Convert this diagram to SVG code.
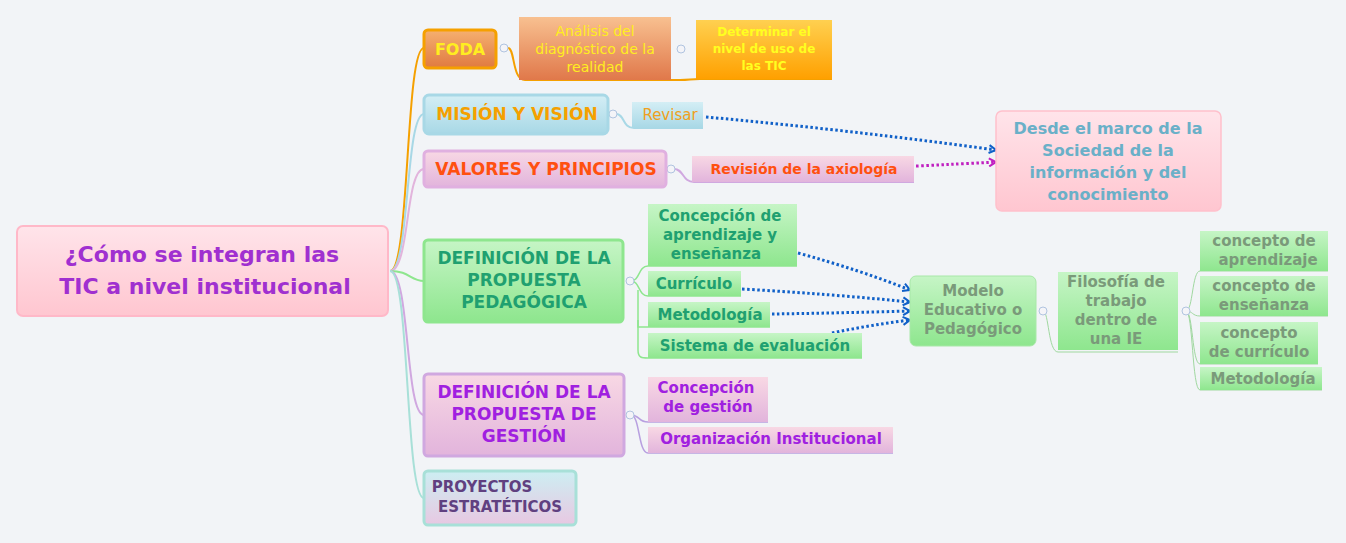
<svg xmlns="http://www.w3.org/2000/svg" width="1346" height="543" viewBox="0 0 1346 543">
<defs>
<linearGradient id="gPink" x1="0" y1="0" x2="0" y2="1"><stop offset="0" stop-color="#ffe4ea"/><stop offset="1" stop-color="#ffc6d0"/></linearGradient>
<linearGradient id="gOr" x1="0" y1="0" x2="0" y2="1"><stop offset="0" stop-color="#f5b070"/><stop offset="1" stop-color="#e07a40"/></linearGradient>
<linearGradient id="gOr2" x1="0" y1="0" x2="0" y2="1"><stop offset="0" stop-color="#f8c090"/><stop offset="1" stop-color="#e0784a"/></linearGradient>
<linearGradient id="gYel" x1="0" y1="0" x2="0" y2="1"><stop offset="0" stop-color="#ffd050"/><stop offset="1" stop-color="#ffa000"/></linearGradient>
<linearGradient id="gBlue" x1="0" y1="0" x2="0" y2="1"><stop offset="0" stop-color="#d4eef5"/><stop offset="1" stop-color="#a8d8e6"/></linearGradient>
<linearGradient id="gLav" x1="0" y1="0" x2="0" y2="1"><stop offset="0" stop-color="#f8d8e4"/><stop offset="1" stop-color="#e2b4dc"/></linearGradient>
<linearGradient id="gGreen" x1="0" y1="0" x2="0" y2="1"><stop offset="0" stop-color="#c6f5c6"/><stop offset="1" stop-color="#8ee68e"/></linearGradient>
<linearGradient id="gProj" x1="0" y1="0" x2="0" y2="1"><stop offset="0" stop-color="#cdeef2"/><stop offset="1" stop-color="#e8c8e2"/></linearGradient>
<marker id="aB" markerWidth="10" markerHeight="10" refX="8" refY="5" orient="auto" markerUnits="userSpaceOnUse"><path d="M1,1 L8,5 L1,9" fill="none" stroke="#1060c8" stroke-width="2"/></marker>
<marker id="aM" markerWidth="10" markerHeight="10" refX="8" refY="5" orient="auto" markerUnits="userSpaceOnUse"><path d="M1,1 L8,5 L1,9" fill="none" stroke="#c020c0" stroke-width="2"/></marker>
</defs>
<style>
text{font-family:"DejaVu Sans",sans-serif;text-anchor:middle;font-weight:bold}
.n{font-weight:normal}
.sm{fill:#f4f4f8;stroke:#b0c4e0;stroke-width:1}
</style>
<rect width="1346" height="543" fill="#f2f4f7"/>
<g id="connectors" fill="none" stroke-width="2">
<path d="M390,271 C410,271 405,48 424,48" stroke="#f5a000"/>
<path d="M390,271 C410,271 405,114 424,114" stroke="#a8d8e6"/>
<path d="M390,271 C410,271 405,169 424,169" stroke="#e2b4dc"/>
<path d="M390,271 C410,271 410,281 424,281" stroke="#8ee68e"/>
<path d="M390,271 C410,271 405,415 424,415" stroke="#d0a8e0"/>
<path d="M390,271 C410,271 405,498 424,498" stroke="#a8e0d8"/>
<path d="M508,48 C515,48 512,80 525,80 L680,80 C690,80 690,79 700,79 L832,79" stroke="#f5a000"/>
<path d="M616,114 C625,114 622,128 634,128 L703,128" stroke="#a8d8e6"/>
<path d="M674,169 C684,169 682,182 694,182 L914,182" stroke="#d0a8e0"/>
<g stroke="#8ee68e" stroke-width="1.5"><path d="M631,281 C640,281 638,266 648,266 L797,266"/><path d="M631,281 C640,281 638,296 648,296 L741,296"/><path d="M638,290 L638,327 C638,327 640,327 648,327 L770,327"/><path d="M638,320 L638,350 C638,358 642,358 648,358 L862,358"/></g>
<g stroke="#b8a0e0" stroke-width="1.5"><path d="M631,415 C640,415 638,422 648,422 L768,422"/><path d="M631,415 C640,415 638,453 648,453 L893,453"/></g>
<g stroke="#a0d8a0" stroke-width="1"><path d="M1043,311 C1049,311 1048,352 1058,352 L1178,352"/><path d="M1186,311 C1193,311 1192,271 1200,271 L1328,271"/><path d="M1186,311 C1193,311 1192,316 1200,316 L1328,316"/><path d="M1186,311 C1193,311 1192,364 1200,364 L1318,364"/><path d="M1186,311 C1193,311 1192,390 1200,390 L1322,390"/></g>
<g stroke-dasharray="2.5,2.5" stroke-width="3">
<path d="M706,117 Q850,130 996,150" stroke="#1060c8" marker-end="url(#aB)"/>
<path d="M916,166 Q960,164 996,162" stroke="#c020c0" marker-end="url(#aM)"/>
<path d="M798,253 Q860,270 910,290" stroke="#1060c8" marker-end="url(#aB)"/>
<path d="M742,289 Q830,294 910,302" stroke="#1060c8" marker-end="url(#aB)"/>
<path d="M772,314 Q840,313 910,311" stroke="#1060c8" marker-end="url(#aB)"/>
<path d="M832,333 Q870,325 910,320" stroke="#1060c8" marker-end="url(#aB)"/>
</g>
<g class="sm"><circle cx="504" cy="48" r="4"/><circle cx="681" cy="49" r="4"/><circle cx="613" cy="114" r="4"/><circle cx="671" cy="169" r="4"/><circle cx="630" cy="281" r="4"/><circle cx="630" cy="415" r="4"/><circle cx="1043" cy="311" r="4"/><circle cx="1186" cy="311" r="4"/></g>
</g>
<g id="root"><rect x="17" y="226" width="371" height="90" rx="6" fill="url(#gPink)" stroke="#ffb8c8" stroke-width="2"/><text x="202" y="262" font-size="22" fill="#a030d0">¿Cómo se integran las</text><text x="205" y="294" font-size="22" fill="#a030d0">TIC  a nivel institucional</text></g>
<g id="foda"><rect x="424" y="30" width="72" height="38" rx="4" fill="url(#gOr)" stroke="#f5a000" stroke-width="3"/><text x="460" y="55" font-size="16" fill="#ffee20">FODA</text></g>
<g id="analisis"><rect x="519" y="17" width="152" height="63" fill="url(#gOr2)"/><text class="n" x="595" y="36" font-size="14" fill="#ffee20">Análisis del</text><text class="n" x="595" y="54" font-size="14" fill="#ffee20">diagnóstico de la</text><text class="n" x="595" y="72" font-size="14" fill="#ffee20">realidad</text></g>
<g id="determinar"><rect x="696" y="20" width="136" height="59" fill="url(#gYel)"/><text x="764" y="36" font-size="12" fill="#ffff20">Determinar el</text><text x="764" y="53" font-size="12" fill="#ffff20">nivel de uso de</text><text x="764" y="70" font-size="12" fill="#ffff20">las TIC</text></g>
<g id="mision"><rect x="424" y="95" width="184" height="39" rx="5" fill="url(#gBlue)" stroke="#a8d8e6" stroke-width="3"/><text x="517" y="120" font-size="17" fill="#f5a000">MISIÓN Y VISIÓN</text></g>
<g id="revisar"><rect x="632" y="102" width="71" height="26" fill="url(#gBlue)"/><text class="n" x="670" y="120" font-size="15" fill="#f0a020">Revisar</text></g>
<g id="valores"><rect x="424" y="151" width="242" height="36" rx="4" fill="url(#gLav)" stroke="#e0b0e0" stroke-width="3"/><text x="546" y="175" font-size="17" fill="#ff5010">VALORES Y PRINCIPIOS</text></g>
<g id="axiologia"><rect x="692" y="156" width="222" height="26" fill="url(#gLav)"/><text x="804" y="174" font-size="14" fill="#ff5010">Revisión de la axiología</text></g>
<g id="desde"><rect x="996" y="111" width="225" height="100" rx="6" fill="url(#gPink)" stroke="#ffc0cc" stroke-width="1.5"/><text x="1108" y="134" font-size="16" fill="#6ab0c8">Desde el marco de la</text><text x="1108" y="156" font-size="16" fill="#6ab0c8">Sociedad de la</text><text x="1108" y="178" font-size="16" fill="#6ab0c8">información y del</text><text x="1108" y="200" font-size="16" fill="#6ab0c8">conocimiento</text></g>
<g id="def-ped"><rect x="424" y="240" width="199" height="82" rx="4" fill="url(#gGreen)" stroke="#8ee68e" stroke-width="3"/><text x="524" y="264" font-size="17" fill="#20a070">DEFINICIÓN DE LA</text><text x="524" y="286" font-size="17" fill="#20a070">PROPUESTA</text><text x="524" y="308" font-size="17" fill="#20a070">PEDAGÓGICA</text></g>
<g fill="url(#gGreen)">
<g id="concepcion-ap"><rect x="648" y="204" width="149" height="62" fill="url(#gGreen)"/><text x="720" y="221" font-size="15" fill="#20a070">Concepción de</text><text x="720" y="240" font-size="15" fill="#20a070">aprendizaje y</text><text x="716" y="259" font-size="15" fill="#20a070">enseñanza</text></g>
<g id="curriculo"><rect x="648" y="271" width="93" height="25" fill="url(#gGreen)"/><text x="694" y="289" font-size="15" fill="#20a070">Currículo</text></g>
<g id="metodologia"><rect x="648" y="302" width="122" height="25" fill="url(#gGreen)"/><text x="710" y="320" font-size="15" fill="#20a070">Metodología</text></g>
<g id="sistema"><rect x="648" y="333" width="214" height="25" fill="url(#gGreen)"/><text x="755" y="351" font-size="15" fill="#20a070">Sistema de evaluación</text></g>
<g id="modelo"><rect x="910" y="276" width="126" height="70" rx="6" fill="url(#gGreen)" stroke="#a8e8a8" stroke-width="1"/><text x="973" y="296" font-size="15" fill="#7a9a7a">Modelo</text><text x="973" y="315" font-size="15" fill="#7a9a7a">Educativo o</text><text x="973" y="334" font-size="15" fill="#7a9a7a">Pedagógico</text></g>
<g id="filosofia"><rect x="1058" y="272" width="120" height="78" fill="url(#gGreen)"/><text x="1116" y="287" font-size="15" fill="#7a9a7a">Filosofía de</text><text x="1116" y="306" font-size="15" fill="#7a9a7a">trabajo</text><text x="1116" y="325" font-size="15" fill="#7a9a7a">dentro de</text><text x="1116" y="344" font-size="15" fill="#7a9a7a">una IE</text></g>
<g id="c-aprendizaje"><rect x="1200" y="231" width="128" height="40" fill="url(#gGreen)"/><text x="1264" y="246" font-size="15" fill="#7a9a7a">concepto de</text><text x="1268" y="265" font-size="15" fill="#7a9a7a">aprendizaje</text></g>
<g id="c-ensenanza"><rect x="1200" y="276" width="128" height="40" fill="url(#gGreen)"/><text x="1264" y="291" font-size="15" fill="#7a9a7a">concepto de</text><text x="1264" y="310" font-size="15" fill="#7a9a7a">enseñanza</text></g>
<g id="c-curriculo"><rect x="1200" y="322" width="118" height="42" fill="url(#gGreen)"/><text x="1259" y="338" font-size="15" fill="#7a9a7a">concepto</text><text x="1259" y="357" font-size="15" fill="#7a9a7a">de currículo</text></g>
<g id="c-metodologia"><rect x="1200" y="367" width="122" height="23" fill="url(#gGreen)"/><text x="1263" y="384" font-size="15" fill="#7a9a7a">Metodología</text></g>
</g>
<g id="def-gest"><rect x="424" y="374" width="200" height="82" rx="4" fill="url(#gLav)" stroke="#d0a8e0" stroke-width="3"/><text x="524" y="398" font-size="17" fill="#a020e0">DEFINICIÓN DE LA</text><text x="524" y="420" font-size="17" fill="#a020e0">PROPUESTA DE</text><text x="524" y="442" font-size="17" fill="#a020e0">GESTIÓN</text></g>
<g id="concepcion-gest"><rect x="648" y="377" width="120" height="45" fill="url(#gLav)"/><text x="706" y="393" font-size="15" fill="#a020e0">Concepción</text><text x="708" y="412" font-size="15" fill="#a020e0">de gestión</text></g>
<g id="organizacion"><rect x="648" y="427" width="245" height="26" fill="url(#gLav)"/><text x="771" y="444" font-size="15" fill="#a020e0">Organización Institucional</text></g>
<g id="proyectos"><rect x="424" y="471" width="152" height="54" rx="4" fill="url(#gProj)" stroke="#a8e0d8" stroke-width="3"/><text x="482" y="492" font-size="15" fill="#604080">PROYECTOS</text><text x="500" y="512" font-size="15" fill="#604080">ESTRATÉTICOS</text></g>
</svg>
